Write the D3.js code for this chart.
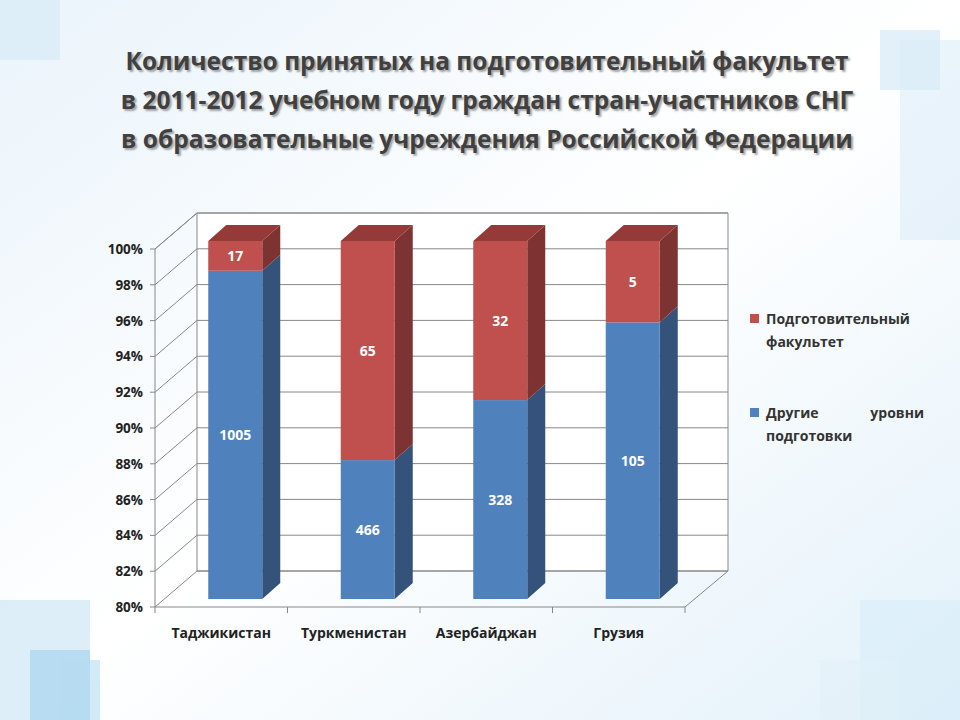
<!DOCTYPE html>
<html><head><meta charset="utf-8">
<script src="https://cdn.jsdelivr.net/npm/d3@7"></script>
<style>body{margin:0}svg{display:block}</style>
</head><body>
<svg id="c" width="960" height="720"></svg>
<script>
var countries = ["Таджикистан","Туркменистан","Азербайджан","Грузия"];
var other = [1005,466,328,105];
var prep = [17,65,32,5];
var yTicks = [80,82,84,86,88,90,92,94,96,98,100];
var titleLines = ["Количество принятых на подготовительный факультет",
  "в 2011-2012 учебном году граждан стран-участников СНГ",
  "в образовательные учреждения Российской Федерации"];

var svg = d3.select("#c");
var defs = svg.append("defs");
var g1 = defs.append("linearGradient").attr("id","bg").attr("x1",0).attr("y1",0).attr("x2",1).attr("y2",1);
g1.append("stop").attr("offset","0").attr("stop-color","#eaf4fb");
g1.append("stop").attr("offset","0.5").attr("stop-color","#ffffff");
g1.append("stop").attr("offset","1").attr("stop-color","#e3f1fa");
svg.append("rect").attr("width",960).attr("height",720).attr("fill","url(#bg)");
var deco = [[0,0,60,60,"#d3e9f6"],[880,30,60,60,"#cfe6f5"],[0,600,90,120,"#c8e3f3"],[30,650,60,70,"#9fd0ee"],
  [860,600,100,120,"#d7ecf8"],[900,40,60,200,"#dcedf8"],[60,660,40,60,"#b6dcf2"],[820,660,80,60,"#e2f0f9"]];
svg.selectAll(".d").data(deco).enter().append("rect")
  .attr("x",d=>d[0]).attr("y",d=>d[1]).attr("width",d=>d[2]).attr("height",d=>d[3])
  .attr("fill",d=>d[4]).attr("opacity",0.6);

svg.append("g").selectAll("text").data(titleLines).enter().append("text")
  .attr("x",487).attr("y",(d,i)=>70+i*39).attr("text-anchor","middle")
  .attr("font-family","Open Sans, sans-serif").attr("font-weight","bold").attr("font-size",24.5)
  .attr("fill","#404040").style("text-shadow","2px 2px 2px rgba(0,0,0,0.35)").text(d=>d);

var x0 = 155, x1 = 685, dx = 42, dy = -36;
var y = d3.scaleLinear().domain([80,100]).range([607,249]);
var x = d3.scaleBand().domain(countries).range([x0,x1]);
var bw = 54, bdx = 18, bdy = -16, ox = 14, oy = -8;

var ch = svg.append("g");
ch.append("path").attr("d",`M${x0+dx},${y(80)+dy}V${y(100)+dy}H${x1+dx+1}V${y(80)+dy}Z`)
  .attr("fill","#fff").attr("stroke","#888");
ch.append("path").attr("d",`M${x0},${y(80)}V${y(100)}L${x0+dx},${y(100)+dy}`).attr("fill","none").attr("stroke","#888");
ch.selectAll(".gl").data(yTicks).enter().append("path")
  .attr("d",t=>`M${x0},${y(t)}L${x0+dx},${y(t)+dy}H${x1+dx+1}`).attr("fill","none").attr("stroke","#888");
ch.append("path").attr("d",`M${x0},${y(80)}H${x1}L${x1+dx+1},${y(80)+dy}`).attr("fill","none").attr("stroke","#888");
ch.selectAll(".tk").data(yTicks).enter().append("path").attr("d",t=>`M${x0-5},${y(t)}H${x0}`).attr("stroke","#888");
ch.selectAll(".xt").data(d3.range(5)).enter().append("path")
  .attr("d",i=>`M${x0+i*x.step()},${y(80)}v6`).attr("stroke","#888");
ch.selectAll(".yl").data(yTicks).enter().append("text").attr("x",x0-12).attr("y",t=>y(t)+5)
  .attr("text-anchor","end").attr("font-family","Open Sans, sans-serif").attr("font-weight","bold")
  .attr("font-size",13.5).attr("fill","#222").text(t=>t+"%");
ch.selectAll(".xl").data(countries).enter().append("text").attr("x",c=>x(c)+x.bandwidth()/2).attr("y",638)
  .attr("text-anchor","middle").attr("font-family","Open Sans, sans-serif").attr("font-weight","bold")
  .attr("font-size",14).attr("fill","#222").text(c=>c);

function box(g, xl, yt, yb, front, side, top){
  g.append("path").attr("d",`M${xl+bw},${yb}L${xl+bw+bdx},${yb+bdy}V${yt+bdy}L${xl+bw},${yt}Z`).attr("fill",side);
  if(top) g.append("path").attr("d",`M${xl},${yt}L${xl+bdx},${yt+bdy}H${xl+bw+bdx}L${xl+bw},${yt}Z`).attr("fill",top);
  g.append("rect").attr("x",xl).attr("y",yt).attr("width",bw).attr("height",yb-yt).attr("fill",front);
}
function lbl(g, xc, yc, t){
  g.append("text").attr("x",xc).attr("y",yc+5).attr("text-anchor","middle").attr("font-family","Open Sans, sans-serif")
    .attr("font-weight","bold").attr("font-size",14).attr("fill","#fff").text(t);
}
countries.forEach(function(c,i){
  var tot = other[i]+prep[i], p = other[i]/tot*100;
  var xl = x(c)+x.bandwidth()/2-bw/2+ox;
  var g = ch.append("g").attr("transform",`translate(0,${oy})`);
  box(g, xl, y(p), y(80), "#4f81bd", "#34527a", null);
  box(g, xl, y(100), y(p), "#c0504d", "#7d3331", "#943a38");
  lbl(g, xl+bw/2, (y(p)+y(80))/2, other[i]);
  lbl(g, xl+bw/2, (y(100)+y(p))/2, prep[i]);
});

var lg = svg.append("g").attr("font-family","Open Sans, sans-serif").attr("font-weight","bold").attr("font-size",14).attr("fill","#333");
lg.append("rect").attr("x",750).attr("y",314).attr("width",9).attr("height",9).attr("fill","#c0504d");
lg.append("text").attr("x",766).attr("y",324).text("Подготовительный");
lg.append("text").attr("x",766).attr("y",347).text("факультет");
lg.append("rect").attr("x",750).attr("y",408).attr("width",9).attr("height",9).attr("fill","#4f81bd");
lg.append("text").attr("x",766).attr("y",418).text("Другие");
lg.append("text").attr("x",924).attr("y",418).attr("text-anchor","end").text("уровни");
lg.append("text").attr("x",766).attr("y",441).text("подготовки");
</script>
</body></html>
